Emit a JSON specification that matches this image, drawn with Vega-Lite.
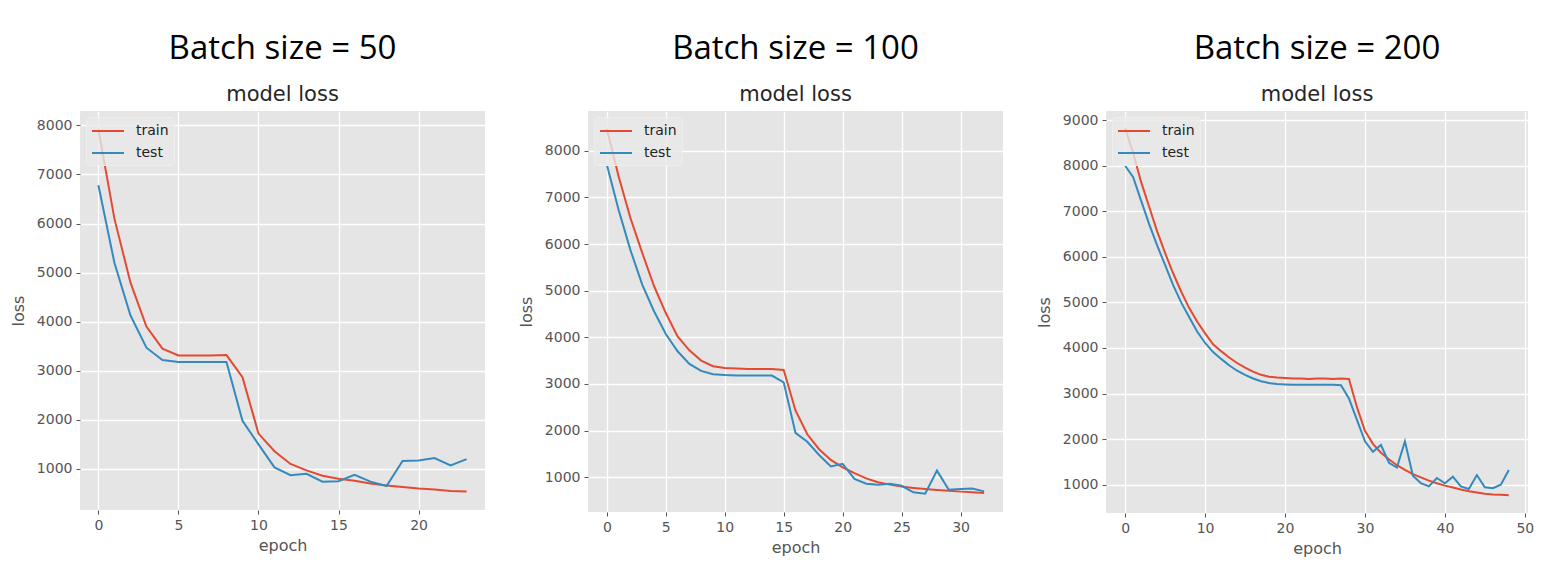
{
  "$schema": "https://vega.github.io/schema/vega-lite/v6.json",
  "description": "Model loss per epoch for three batch sizes",
  "background": "white",
  "padding": {"left": 10, "top": 33, "right": 5, "bottom": 5},
  "spacing": 33,
  "datasets": {
    "b50": [
      {"epoch": 0, "series": "train", "loss": 7920}, {"epoch": 1, "series": "train", "loss": 6100},
      {"epoch": 2, "series": "train", "loss": 4800}, {"epoch": 3, "series": "train", "loss": 3900},
      {"epoch": 4, "series": "train", "loss": 3450}, {"epoch": 5, "series": "train", "loss": 3310},
      {"epoch": 6, "series": "train", "loss": 3310}, {"epoch": 7, "series": "train", "loss": 3310},
      {"epoch": 8, "series": "train", "loss": 3320}, {"epoch": 9, "series": "train", "loss": 2870},
      {"epoch": 10, "series": "train", "loss": 1720}, {"epoch": 11, "series": "train", "loss": 1360},
      {"epoch": 12, "series": "train", "loss": 1100}, {"epoch": 13, "series": "train", "loss": 970},
      {"epoch": 14, "series": "train", "loss": 860}, {"epoch": 15, "series": "train", "loss": 800},
      {"epoch": 16, "series": "train", "loss": 760}, {"epoch": 17, "series": "train", "loss": 700},
      {"epoch": 18, "series": "train", "loss": 660}, {"epoch": 19, "series": "train", "loss": 630},
      {"epoch": 20, "series": "train", "loss": 600}, {"epoch": 21, "series": "train", "loss": 580},
      {"epoch": 22, "series": "train", "loss": 550}, {"epoch": 23, "series": "train", "loss": 540},
      {"epoch": 0, "series": "test", "loss": 6780}, {"epoch": 1, "series": "test", "loss": 5200},
      {"epoch": 2, "series": "test", "loss": 4130}, {"epoch": 3, "series": "test", "loss": 3470},
      {"epoch": 4, "series": "test", "loss": 3220}, {"epoch": 5, "series": "test", "loss": 3180},
      {"epoch": 6, "series": "test", "loss": 3180}, {"epoch": 7, "series": "test", "loss": 3180},
      {"epoch": 8, "series": "test", "loss": 3180}, {"epoch": 9, "series": "test", "loss": 1980},
      {"epoch": 10, "series": "test", "loss": 1500}, {"epoch": 11, "series": "test", "loss": 1030},
      {"epoch": 12, "series": "test", "loss": 870}, {"epoch": 13, "series": "test", "loss": 900},
      {"epoch": 14, "series": "test", "loss": 740}, {"epoch": 15, "series": "test", "loss": 750},
      {"epoch": 16, "series": "test", "loss": 880}, {"epoch": 17, "series": "test", "loss": 740},
      {"epoch": 18, "series": "test", "loss": 650}, {"epoch": 19, "series": "test", "loss": 1160},
      {"epoch": 20, "series": "test", "loss": 1170}, {"epoch": 21, "series": "test", "loss": 1220},
      {"epoch": 22, "series": "test", "loss": 1070}, {"epoch": 23, "series": "test", "loss": 1200}
    ],
    "b100": [
      {"epoch": 0, "series": "train", "loss": 8470}, {"epoch": 1, "series": "train", "loss": 7450},
      {"epoch": 2, "series": "train", "loss": 6560}, {"epoch": 3, "series": "train", "loss": 5810},
      {"epoch": 4, "series": "train", "loss": 5100}, {"epoch": 5, "series": "train", "loss": 4520},
      {"epoch": 6, "series": "train", "loss": 4020}, {"epoch": 7, "series": "train", "loss": 3720},
      {"epoch": 8, "series": "train", "loss": 3500}, {"epoch": 9, "series": "train", "loss": 3380},
      {"epoch": 10, "series": "train", "loss": 3340}, {"epoch": 11, "series": "train", "loss": 3330},
      {"epoch": 12, "series": "train", "loss": 3320}, {"epoch": 13, "series": "train", "loss": 3320},
      {"epoch": 14, "series": "train", "loss": 3320}, {"epoch": 15, "series": "train", "loss": 3300},
      {"epoch": 16, "series": "train", "loss": 2430}, {"epoch": 17, "series": "train", "loss": 1920},
      {"epoch": 18, "series": "train", "loss": 1600}, {"epoch": 19, "series": "train", "loss": 1370},
      {"epoch": 20, "series": "train", "loss": 1210}, {"epoch": 21, "series": "train", "loss": 1085},
      {"epoch": 22, "series": "train", "loss": 975}, {"epoch": 23, "series": "train", "loss": 890},
      {"epoch": 24, "series": "train", "loss": 840}, {"epoch": 25, "series": "train", "loss": 800},
      {"epoch": 26, "series": "train", "loss": 770}, {"epoch": 27, "series": "train", "loss": 745},
      {"epoch": 28, "series": "train", "loss": 725}, {"epoch": 29, "series": "train", "loss": 710},
      {"epoch": 30, "series": "train", "loss": 690}, {"epoch": 31, "series": "train", "loss": 675},
      {"epoch": 32, "series": "train", "loss": 660},
      {"epoch": 0, "series": "test", "loss": 7700}, {"epoch": 1, "series": "test", "loss": 6730},
      {"epoch": 2, "series": "test", "loss": 5870}, {"epoch": 3, "series": "test", "loss": 5130},
      {"epoch": 4, "series": "test", "loss": 4560}, {"epoch": 5, "series": "test", "loss": 4070},
      {"epoch": 6, "series": "test", "loss": 3700}, {"epoch": 7, "series": "test", "loss": 3430},
      {"epoch": 8, "series": "test", "loss": 3280}, {"epoch": 9, "series": "test", "loss": 3210},
      {"epoch": 10, "series": "test", "loss": 3190}, {"epoch": 11, "series": "test", "loss": 3180},
      {"epoch": 12, "series": "test", "loss": 3180}, {"epoch": 13, "series": "test", "loss": 3180},
      {"epoch": 14, "series": "test", "loss": 3180}, {"epoch": 15, "series": "test", "loss": 3035},
      {"epoch": 16, "series": "test", "loss": 1950}, {"epoch": 17, "series": "test", "loss": 1760},
      {"epoch": 18, "series": "test", "loss": 1475}, {"epoch": 19, "series": "test", "loss": 1230},
      {"epoch": 20, "series": "test", "loss": 1285}, {"epoch": 21, "series": "test", "loss": 965},
      {"epoch": 22, "series": "test", "loss": 860}, {"epoch": 23, "series": "test", "loss": 840},
      {"epoch": 24, "series": "test", "loss": 860}, {"epoch": 25, "series": "test", "loss": 815},
      {"epoch": 26, "series": "test", "loss": 675}, {"epoch": 27, "series": "test", "loss": 645},
      {"epoch": 28, "series": "test", "loss": 1140}, {"epoch": 29, "series": "test", "loss": 730},
      {"epoch": 30, "series": "test", "loss": 745}, {"epoch": 31, "series": "test", "loss": 755},
      {"epoch": 32, "series": "test", "loss": 695}
    ],
    "b200": [
      {"epoch": 0, "series": "train", "loss": 8820}, {"epoch": 1, "series": "train", "loss": 8280},
      {"epoch": 2, "series": "train", "loss": 7640}, {"epoch": 3, "series": "train", "loss": 7100},
      {"epoch": 4, "series": "train", "loss": 6560}, {"epoch": 5, "series": "train", "loss": 6080},
      {"epoch": 6, "series": "train", "loss": 5640}, {"epoch": 7, "series": "train", "loss": 5240},
      {"epoch": 8, "series": "train", "loss": 4880}, {"epoch": 9, "series": "train", "loss": 4580},
      {"epoch": 10, "series": "train", "loss": 4320}, {"epoch": 11, "series": "train", "loss": 4080},
      {"epoch": 12, "series": "train", "loss": 3930}, {"epoch": 13, "series": "train", "loss": 3790},
      {"epoch": 14, "series": "train", "loss": 3670}, {"epoch": 15, "series": "train", "loss": 3570},
      {"epoch": 16, "series": "train", "loss": 3480}, {"epoch": 17, "series": "train", "loss": 3410},
      {"epoch": 18, "series": "train", "loss": 3370}, {"epoch": 19, "series": "train", "loss": 3350},
      {"epoch": 20, "series": "train", "loss": 3340}, {"epoch": 21, "series": "train", "loss": 3330},
      {"epoch": 22, "series": "train", "loss": 3330}, {"epoch": 23, "series": "train", "loss": 3320},
      {"epoch": 24, "series": "train", "loss": 3330}, {"epoch": 25, "series": "train", "loss": 3330},
      {"epoch": 26, "series": "train", "loss": 3320}, {"epoch": 27, "series": "train", "loss": 3330},
      {"epoch": 28, "series": "train", "loss": 3320}, {"epoch": 29, "series": "train", "loss": 2700},
      {"epoch": 30, "series": "train", "loss": 2180}, {"epoch": 31, "series": "train", "loss": 1895},
      {"epoch": 32, "series": "train", "loss": 1700}, {"epoch": 33, "series": "train", "loss": 1556},
      {"epoch": 34, "series": "train", "loss": 1426}, {"epoch": 35, "series": "train", "loss": 1325},
      {"epoch": 36, "series": "train", "loss": 1231}, {"epoch": 37, "series": "train", "loss": 1159},
      {"epoch": 38, "series": "train", "loss": 1087}, {"epoch": 39, "series": "train", "loss": 1029},
      {"epoch": 40, "series": "train", "loss": 978}, {"epoch": 41, "series": "train", "loss": 935},
      {"epoch": 42, "series": "train", "loss": 892}, {"epoch": 43, "series": "train", "loss": 856},
      {"epoch": 44, "series": "train", "loss": 827}, {"epoch": 45, "series": "train", "loss": 798},
      {"epoch": 46, "series": "train", "loss": 783}, {"epoch": 47, "series": "train", "loss": 776},
      {"epoch": 48, "series": "train", "loss": 769},
      {"epoch": 0, "series": "test", "loss": 8000}, {"epoch": 1, "series": "test", "loss": 7750},
      {"epoch": 2, "series": "test", "loss": 7230}, {"epoch": 3, "series": "test", "loss": 6720},
      {"epoch": 4, "series": "test", "loss": 6250}, {"epoch": 5, "series": "test", "loss": 5820},
      {"epoch": 6, "series": "test", "loss": 5380}, {"epoch": 7, "series": "test", "loss": 5000},
      {"epoch": 8, "series": "test", "loss": 4680}, {"epoch": 9, "series": "test", "loss": 4360},
      {"epoch": 10, "series": "test", "loss": 4110}, {"epoch": 11, "series": "test", "loss": 3910},
      {"epoch": 12, "series": "test", "loss": 3760}, {"epoch": 13, "series": "test", "loss": 3620},
      {"epoch": 14, "series": "test", "loss": 3500}, {"epoch": 15, "series": "test", "loss": 3410},
      {"epoch": 16, "series": "test", "loss": 3330}, {"epoch": 17, "series": "test", "loss": 3270},
      {"epoch": 18, "series": "test", "loss": 3230}, {"epoch": 19, "series": "test", "loss": 3210},
      {"epoch": 20, "series": "test", "loss": 3200}, {"epoch": 21, "series": "test", "loss": 3190},
      {"epoch": 22, "series": "test", "loss": 3190}, {"epoch": 23, "series": "test", "loss": 3190},
      {"epoch": 24, "series": "test", "loss": 3190}, {"epoch": 25, "series": "test", "loss": 3190},
      {"epoch": 26, "series": "test", "loss": 3190}, {"epoch": 27, "series": "test", "loss": 3180},
      {"epoch": 28, "series": "test", "loss": 2890}, {"epoch": 29, "series": "test", "loss": 2420},
      {"epoch": 30, "series": "test", "loss": 1950}, {"epoch": 31, "series": "test", "loss": 1720},
      {"epoch": 32, "series": "test", "loss": 1870}, {"epoch": 33, "series": "test", "loss": 1480},
      {"epoch": 34, "series": "test", "loss": 1375}, {"epoch": 35, "series": "test", "loss": 1950},
      {"epoch": 36, "series": "test", "loss": 1195}, {"epoch": 37, "series": "test", "loss": 1030},
      {"epoch": 38, "series": "test", "loss": 960}, {"epoch": 39, "series": "test", "loss": 1145},
      {"epoch": 40, "series": "test", "loss": 1030}, {"epoch": 41, "series": "test", "loss": 1175},
      {"epoch": 42, "series": "test", "loss": 960}, {"epoch": 43, "series": "test", "loss": 905},
      {"epoch": 44, "series": "test", "loss": 1210}, {"epoch": 45, "series": "test", "loss": 940},
      {"epoch": 46, "series": "test", "loss": 920}, {"epoch": 47, "series": "test", "loss": 1000},
      {"epoch": 48, "series": "test", "loss": 1320}
    ]
  },
  "hconcat": [
    {
      "data": {"name": "b50"},
      "width": 405,
      "height": 399,
      "title": {"text": "Batch size = 50", "subtitle": "model loss"},
      "mark": {"type": "line", "strokeWidth": 2},
      "encoding": {
        "x": {"field": "epoch", "type": "quantitative", "title": "epoch",
              "scale": {"domain": [-1.15, 24.15], "nice": false, "zero": false},
              "axis": {"values": [0, 5, 10, 15, 20], "format": "d"}},
        "y": {"field": "loss", "type": "quantitative", "title": "loss",
              "scale": {"domain": [162, 8294], "nice": false, "zero": false},
              "axis": {"values": [1000, 2000, 3000, 4000, 5000, 6000, 7000, 8000], "format": "d"}},
        "color": {"field": "series", "type": "nominal",
                  "scale": {"domain": ["train", "test"], "range": ["#E24A33", "#348ABD"]},
                  "legend": {"orient": "top-left"}}
      }
    },
    {
      "data": {"name": "b100"},
      "width": 415,
      "height": 401,
      "title": {"text": "Batch size = 100", "subtitle": "model loss"},
      "mark": {"type": "line", "strokeWidth": 2},
      "encoding": {
        "x": {"field": "epoch", "type": "quantitative", "title": "epoch",
              "scale": {"domain": [-1.6, 33.6], "nice": false, "zero": false},
              "axis": {"values": [0, 5, 10, 15, 20, 25, 30], "format": "d"}},
        "y": {"field": "loss", "type": "quantitative", "title": "loss",
              "scale": {"domain": [253, 8854], "nice": false, "zero": false},
              "axis": {"values": [1000, 2000, 3000, 4000, 5000, 6000, 7000, 8000], "format": "d"}},
        "color": {"field": "series", "type": "nominal",
                  "scale": {"domain": ["train", "test"], "range": ["#E24A33", "#348ABD"]},
                  "legend": {"orient": "top-left"}}
      }
    },
    {
      "data": {"name": "b200"},
      "width": 422,
      "height": 402,
      "title": {"text": "Batch size = 200", "subtitle": "model loss"},
      "mark": {"type": "line", "strokeWidth": 2},
      "encoding": {
        "x": {"field": "epoch", "type": "quantitative", "title": "epoch",
              "scale": {"domain": [-2.4, 50.4], "nice": false, "zero": false},
              "axis": {"values": [0, 10, 20, 30, 40, 50], "format": "d"}},
        "y": {"field": "loss", "type": "quantitative", "title": "loss",
              "scale": {"domain": [377, 9202], "nice": false, "zero": false},
              "axis": {"values": [1000, 2000, 3000, 4000, 5000, 6000, 7000, 8000, 9000], "format": "d"}},
        "color": {"field": "series", "type": "nominal",
                  "scale": {"domain": ["train", "test"], "range": ["#E24A33", "#348ABD"]},
                  "legend": {"orient": "top-left"}}
      }
    }
  ],
  "resolve": {"scale": {"color": "independent"}, "legend": {"color": "independent"}},
  "config": {
    "view": {"fill": "#E5E5E5", "stroke": null},
    "title": {
      "font": "Open Sans", "fontSize": 33, "fontWeight": "normal", "color": "#000000",
      "subtitleFont": "DejaVu Sans", "subtitleFontSize": 21, "subtitleColor": "#262626",
      "subtitlePadding": 18, "anchor": "middle", "frame": "group", "offset": 6
    },
    "axis": {
      "domain": false,
      "grid": true, "gridColor": "#FFFFFF", "gridWidth": 1.3,
      "tickColor": "#555555", "tickSize": 4, "tickWidth": 1,
      "labelFont": "DejaVu Sans", "labelFontSize": 14, "labelColor": "#555555", "labelPadding": 4,
      "titleFont": "DejaVu Sans", "titleFontSize": 16, "titleColor": "#555555", "titleFontWeight": "normal"
    },
    "axisY": {"titlePadding": 10, "labelAngle": 0},
    "axisX": {"titlePadding": 5},
    "legend": {
      "title": null,
      "symbolType": "M-2,0H2", "symbolSize": 256, "symbolStrokeWidth": 2, "symbolOffset": 8,
      "labelFont": "DejaVu Sans", "labelFontSize": 14, "labelColor": "#222222", "labelOffset": 19,
      "fillColor": "rgba(232,232,232,0.8)", "strokeColor": "#EEEEEE", "cornerRadius": 3,
      "padding": 5, "rowPadding": 6, "offset": 6
    }
  }
}
